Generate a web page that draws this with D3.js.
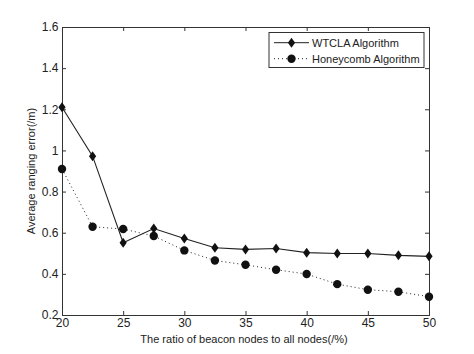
<!DOCTYPE html>
<html>
<head>
<meta charset="utf-8">
<script src="https://cdn.jsdelivr.net/npm/d3@7"></script>
<style>
  body { margin: 0; background: #fff; }
  text { font-family: "Liberation Sans", Arial, sans-serif; fill: #222; }
</style>
</head>
<body>
<div id="container"></div>
<script>
/* DATA */
const ratios = [20, 22.5, 25, 27.5, 30, 32.5, 35, 37.5, 40, 42.5, 45, 47.5, 50]
const wtcla = [1.21, 0.972, 0.551, 0.62, 0.572, 0.527, 0.519, 0.523, 0.503, 0.499, 0.499, 0.49, 0.485]
const honeycomb = [0.91, 0.629, 0.618, 0.584, 0.514, 0.465, 0.444, 0.42, 0.399, 0.35, 0.323, 0.313, 0.289]
const xTicks = [20, 25, 30, 35, 40, 45, 50]
const yTicks = [0.2, 0.4, 0.6, 0.8, 1, 1.2, 1.4, 1.6]
const seriesNames = ["WTCLA Algorithm", "Honeycomb Algorithm"]

/* CONSTANTS */
const width = 474
const height = 354
const margin = { top: 27, bottom: 39, left: 62, right: 45 }

const svg = d3.select("#container")
  .append("svg")
  .attr("width", width)
  .attr("height", height)

/* SCALES */
const xScale = d3.scaleLinear()
  .domain([20, 50])
  .range([margin.left, width - margin.right])

const yScale = d3.scaleLinear()
  .domain([0.2, 1.6])
  .range([height - margin.bottom, margin.top])

const fmt = d => d3.format("~g")(d)

// axes, ticks pointing inward like matlab
svg.append("g")
  .attr("transform", `translate(0,${height - margin.bottom})`)
  .call(d3.axisBottom(xScale).tickValues(xTicks).tickSize(-4).tickPadding(3).tickFormat(fmt))
svg.append("g")
  .attr("transform", `translate(0,${margin.top})`)
  .call(d3.axisTop(xScale).tickValues(xTicks).tickSize(-4).tickFormat(""))
svg.append("g")
  .attr("transform", `translate(${margin.left},0)`)
  .call(d3.axisLeft(yScale).tickValues(yTicks).tickSize(-4).tickPadding(3.5).tickFormat(fmt))
svg.append("g")
  .attr("transform", `translate(${width - margin.right},0)`)
  .call(d3.axisRight(yScale).tickValues(yTicks).tickSize(-4).tickFormat(""))

svg.selectAll(".domain, .tick line").attr("stroke", "#333")
svg.selectAll(".tick text").attr("font-size", 12).attr("fill", "#222")
  .style("font-family", "Liberation Sans, Arial, sans-serif")

// labels
svg.append("text")
  .attr("x", 244)
  .attr("y", 343)
  .attr("text-anchor", "middle")
  .attr("font-size", 11)
  .text("The ratio of beacon nodes to all nodes(/%)")

svg.append("text")
  .attr("transform", `translate(35,${(margin.top + height - margin.bottom) / 2}) rotate(-90)`)
  .attr("text-anchor", "middle")
  .attr("font-size", 11)
  .text("Average ranging error(/m)")

/* LINES */
const line = ys => d3.line()
  .x((d, i) => xScale(ratios[i]))
  .y(d => yScale(d))(ys)

svg.append("path")
  .attr("d", line(wtcla))
  .attr("fill", "none")
  .attr("stroke", "#222")
  .attr("stroke-width", 1.1)

svg.append("path")
  .attr("d", line(honeycomb))
  .attr("fill", "none")
  .attr("stroke", "#222")
  .attr("stroke-width", 1)
  .attr("stroke-dasharray", "1,3")

// markers
const diamond = (x, y) => `M${x},${y - 5}L${x + 3.6},${y}L${x},${y + 5}L${x - 3.6},${y}Z`

svg.selectAll(".dia")
  .data(wtcla)
  .join("path")
  .attr("class", "dia")
  .attr("d", (d, i) => diamond(xScale(ratios[i]), yScale(d)))
  .attr("fill", "#111")

svg.selectAll(".dot")
  .data(honeycomb)
  .join("circle")
  .attr("class", "dot")
  .attr("cx", (d, i) => xScale(ratios[i]))
  .attr("cy", d => yScale(d))
  .attr("r", 4.2)
  .attr("fill", "#111")

/* LEGEND */
const lg = svg.append("g")
lg.append("rect")
  .attr("x", 269).attr("y", 32.5)
  .attr("width", 155).attr("height", 35)
  .attr("fill", "#fff").attr("stroke", "#333")

seriesNames.forEach((name, i) => {
  const y = 42.7 + i * 16
  lg.append("line")
    .attr("x1", 274).attr("x2", 309)
    .attr("y1", y).attr("y2", y)
    .attr("stroke", "#222")
    .attr("stroke-dasharray", i === 0 ? null : "1,3")
  if (i === 0) {
    lg.append("path").attr("d", diamond(291.5, y)).attr("fill", "#111")
  } else {
    lg.append("circle").attr("cx", 291.5).attr("cy", y).attr("r", 4.2).attr("fill", "#111")
  }
  lg.append("text")
    .attr("x", 312).attr("y", y + 4)
    .attr("font-size", 11)
    .text(name)
})
</script>
</body>
</html>
